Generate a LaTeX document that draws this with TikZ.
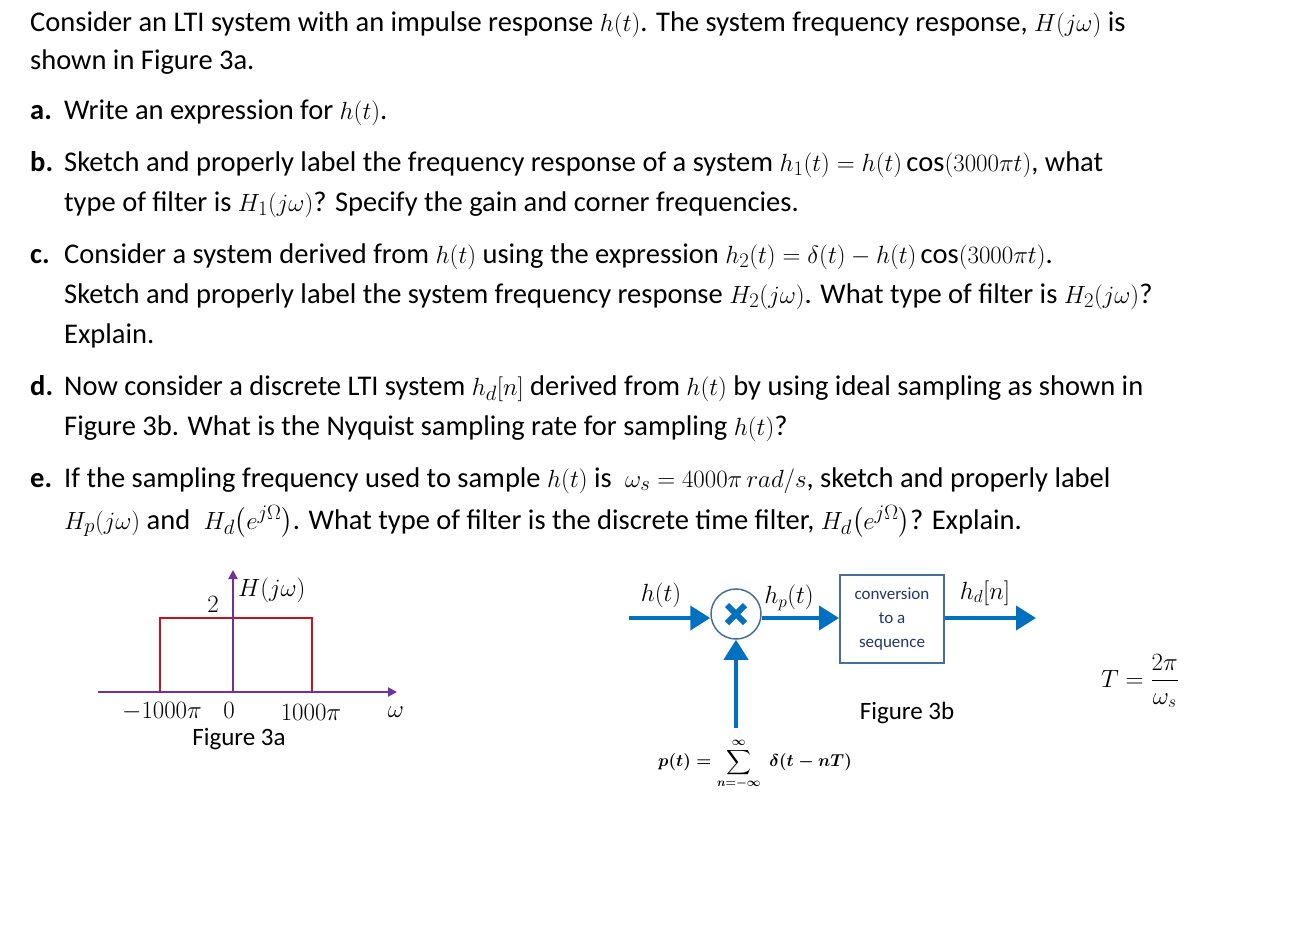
\documentclass[tikz,border=0pt]{standalone}
\usepackage{amsmath}
\usepackage{fontspec}
\setmainfont{Carlito}
\usetikzlibrary{arrows.meta}
\definecolor{axispurple}{RGB}{112,48,160}
\definecolor{rectred}{RGB}{200,16,30}
\definecolor{flowblue}{RGB}{0,112,192}
\definecolor{boxblue}{RGB}{70,110,150}
\definecolor{textnavy}{RGB}{31,56,100}
\tikzset{
  line/.style={anchor=base west, inner sep=0pt, font=\fontsize{28.5}{32}\selectfont},
  item/.style={anchor=base west, inner sep=0pt, font=\fontsize{28.5}{32}\selectfont\bfseries},
  flow/.style={flowblue, line width=4pt, -{Triangle[length=20pt, width=24pt]}},
  axis/.style={axispurple, line width=2pt, -{Triangle[length=9pt, width=9pt]}},
  lbl/.style={inner sep=0pt, font=\fontsize{25}{28}\selectfont}
}
\begin{document}
\begin{tikzpicture}[x=1pt, y=-1pt]
\useasboundingbox (0,0) rectangle (1306,930);
% question text
\node[line] (l1) at (30,31) {Consider an LTI system with an impulse response $h(t)$. The system frequency response, $H(j\omega)$ is};
\node[line] (l2) at (30,69) {shown in Figure 3a.};
\node[item] (ia) at (30,119) {a.};
\node[line] (la) at (64,119) {Write an expression for $h(t)$.};
\node[item] (ib) at (30,171) {b.};
\node[line] (lb1) at (64,171) {Sketch and properly label the frequency response of a system $h_1(t)=h(t)\cos(3000\pi t)$, what};
\node[line] (lb2) at (64,211) {type of filter is $H_1(j\omega)$? Specify the gain and corner frequencies.};
\node[item] (ic) at (30,263) {c.};
\node[line] (lc1) at (64,263) {Consider a system derived from $h(t)$ using the expression $h_2(t)=\delta(t)-h(t)\cos(3000\pi t)$.};
\node[line] (lc2) at (64,303) {Sketch and properly label the system frequency response $H_2(j\omega)$. What type of filter is $H_2(j\omega)$?};
\node[line] (lc3) at (64,343) {Explain.};
\node[item] (id) at (30,395) {d.};
\node[line] (ld1) at (64,395) {Now consider a discrete LTI system $h_d[n]$ derived from $h(t)$ by using ideal sampling as shown in};
\node[line] (ld2) at (64,435) {Figure 3b. What is the Nyquist sampling rate for sampling $h(t)$?};
\node[item] (ie) at (30,487) {e.};
\node[line] (le1) at (64,487) {If the sampling frequency used to sample $h(t)$ is $\;\omega_s=4000\pi\, rad/s$, sketch and properly label};
\node[line] (le2) at (64,529) {$H_p(j\omega)$ and $\;H_d\bigl(e^{j\Omega}\bigr)$. What type of filter is the discrete time filter, $H_d\bigl(e^{j\Omega}\bigr)$? Explain.};
% Figure 3a
\coordinate (wl) at (98,692);
\coordinate (wr) at (397,692);
\coordinate (v0) at (233,692);
\coordinate (vt) at (233,570);
\draw[rectred, line width=2pt] (160,692) -- (160,618) -- (312,618) -- (312,692);
\draw[axis] (wl) -- (wr);
\draw[axis] (v0) -- (vt);
\node[lbl] (gain) at (213,604) {$2$};
\node[lbl, anchor=west] (hjw) at (238,590) {$H(j\omega)$};
\node[lbl] (mk) at (162,712) {$-1000\pi$};
\node[lbl] (zero) at (229,710) {$0$};
\node[lbl] (pk) at (311,712) {$1000\pi$};
\node[lbl] (wlab) at (396,712) {$\omega$};
\node[lbl] (cap3a) at (239,739) {Figure 3a};
% Figure 3b
\node[circle, draw=boxblue, line width=1.5pt, minimum size=50pt, inner sep=0pt] (mult) at (736,614) {};
\draw[flowblue, line width=6pt] ([shift={(-9,-9)}]mult.center) -- ([shift={(9,9)}]mult.center)
  ([shift={(-9,9)}]mult.center) -- ([shift={(9,-9)}]mult.center);
\node[draw=boxblue, line width=2pt, minimum width=104pt, minimum height=88pt, align=center,
      text=textnavy, font=\fontsize{17}{24}\selectfont] (conv) at (892,619) {conversion\\to a\\sequence};
\coordinate (in) at (629,618);
\coordinate (out) at (1036,618);
\coordinate (pin) at (736,728);
\draw[flow] (in) -- (mult.west |- in);
\draw[flow] (mult.east |- in) -- (conv.west |- in);
\draw[flow] (conv.east |- in) -- (out);
\draw[flow] (pin) -- (mult.south);
\node[lbl] (ht) at (661,595) {$h(t)$};
\node[lbl] (hp) at (789,598) {$h_p(t)$};
\node[lbl] (hd) at (985,593) {$h_d[n]$};
\node[lbl] (cap3b) at (907,713) {Figure 3b};
\node[inner sep=0pt, font=\fontsize{17}{18}\selectfont] (pt) at (755,764)
  {$\displaystyle\boldsymbol{p(t)=\sum_{n=-\infty}^{\infty}\;\delta(t-nT)}$};
\node[lbl] (tdef) at (1140,681) {$T=\dfrac{2\pi}{\omega_s}$};
\end{tikzpicture}
\end{document}
